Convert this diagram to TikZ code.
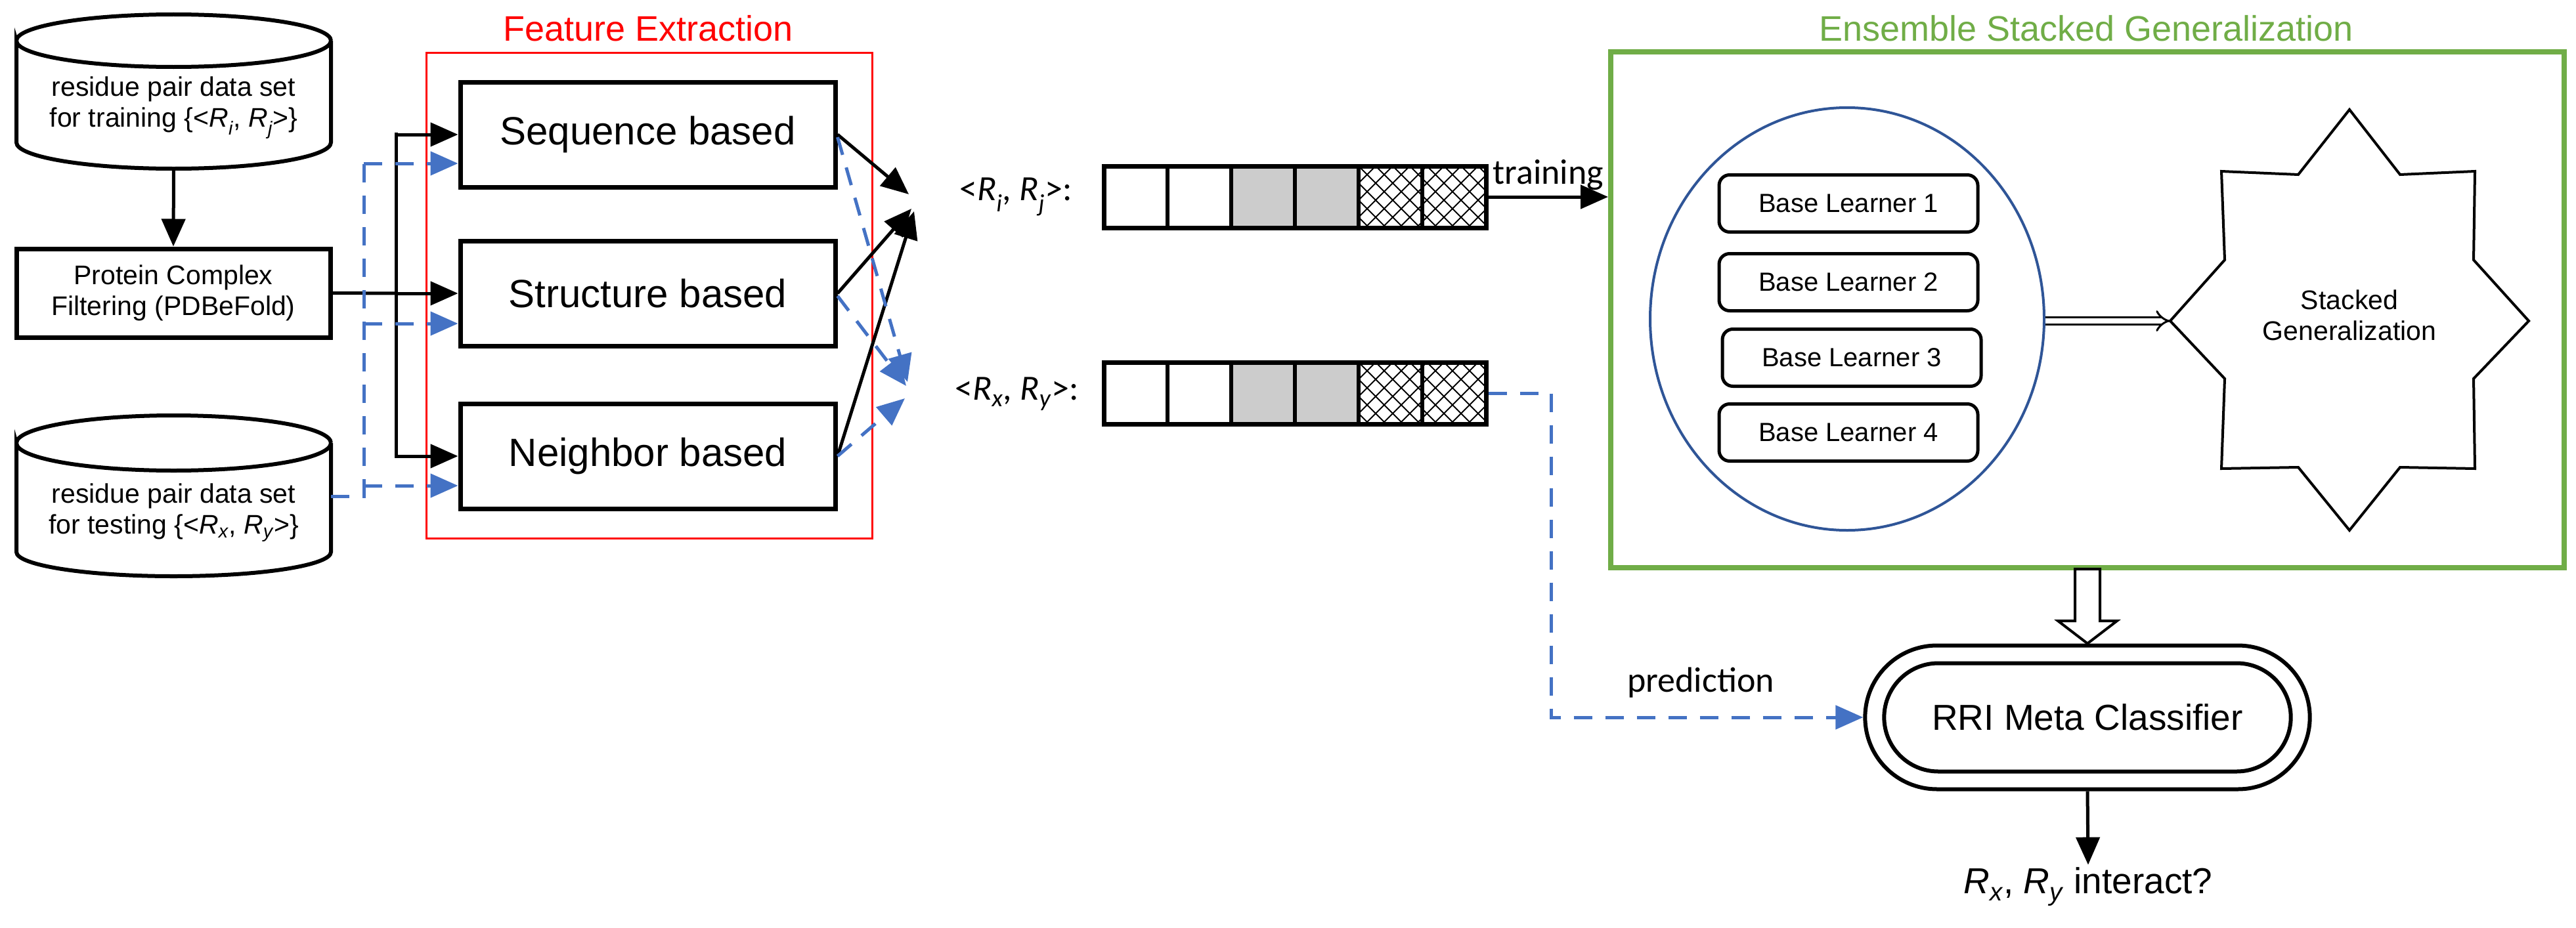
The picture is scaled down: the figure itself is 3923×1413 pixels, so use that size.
\documentclass[tikz,border=0pt]{standalone}
\usepackage{fontspec}
\setmainfont{Liberation Sans}
\newfontfamily\calfont{Carlito}
\usetikzlibrary{arrows.meta,shapes.misc,shapes.geometric,calc}
\definecolor{myblue}{RGB}{68,114,196}
\definecolor{ellblue}{RGB}{47,85,151}
\definecolor{mygreen}{RGB}{112,173,71}
\definecolor{mygrey}{RGB}{204,204,204}
\newcommand\Rs[1]{\textit{R}\textsubscript{\textit{#1}}}
\newcommand\fs[1]{\fontsize{#1pt}{\dimexpr #1pt*115/100\relax}\selectfont}
\begin{document}
\begin{tikzpicture}[x=1pt,y=-1pt,
  blk/.style={line width=5pt,-{Triangle[length=42pt,width=36pt]}},
  blu/.style={line width=5pt,myblue,dash pattern=on 28pt off 20pt,-{Triangle[length=42pt,width=36pt]}},
  fbox/.style={draw,line width=7pt,minimum width=571pt,minimum height=160pt,font=\fs{60}},
  bl/.style={draw,line width=5pt,rounded corners=16pt,minimum width=394pt,minimum height=87pt,font=\fs{40}}]
\useasboundingbox (0,0) rectangle (3923,1413);
% cylinders
\draw[line width=6pt] (25,62) arc[start angle=180,end angle=360,x radius=239.5,y radius=40] (504,62) arc[start angle=0,end angle=180,x radius=239.5,y radius=40] -- (25,217) arc[start angle=180,end angle=0,x radius=239.5,y radius=40] -- (504,62);
\node[minimum width=479pt,minimum height=160pt,align=center,font=\fs{41}] (cyl1) at (264.5,164) {residue pair data set\\for training \{<\Rs{i}, \Rs{j}>\}};
\draw[line width=6pt] (25,675) arc[start angle=180,end angle=360,x radius=239.5,y radius=42] (504,675) arc[start angle=0,end angle=180,x radius=239.5,y radius=42] -- (25,841) arc[start angle=180,end angle=0,x radius=239.5,y radius=37] -- (504,675);
\node[minimum width=479pt,minimum height=150pt,align=center,font=\fs{41}] (cyl2) at (264.5,781) {residue pair data set\\for testing \{<\Rs{x}, \Rs{y}>\}};
\coordinate (c1b) at (264.5,257);
\node[draw,line width=7pt,minimum width=478pt,minimum height=135pt,align=center,font=\fs{41}] (pcf) at (264,446.5) {Protein Complex\\Filtering (PDBeFold)};
\draw[blk] (c1b) -- (pcf.north);
% feature extraction
\node[draw=red,line width=3pt,minimum width=679pt,minimum height=740pt] (fe) at (988.5,450) {};
\node[text=red,font=\fs{54}] (fel) at (987,43) {Feature Extraction};
\node[fbox] (seq) at (986.5,205) {Sequence based};
\node[fbox] (str) at (986.5,447) {Structure based};
\node[fbox] (nei) at (986.5,695) {Neighbor based};
\coordinate (jb) at (603,447);
\draw[line width=5pt] (pcf.east) -- (jb);
\draw[blk] (603,205) -- (seq.west);
\draw[blk] (jb) -- (str.west);
\draw[line width=5pt] (603,202) -- (603,698);
\draw[blk] (603,695) -- (nei.west);
\coordinate (bj) at (554,756);
\draw[line width=5pt,myblue,dash pattern=on 28pt off 20pt] (cyl2.east|-bj) -- (bj) -- (554,249);
\draw[blu] (554,249) -- (seq.west|-0,249);
\draw[blu] (554,493) -- (str.west|-0,493);
\draw[blu] (554,740) -- (nei.west|-0,740);
% vectors
\foreach \n/\yy in {vec1/300,vec2/599}{
  \fill[mygrey] (1875,\yy-47) rectangle (2069,\yy+47);
  \begin{scope}
  \clip (2069,\yy-47) rectangle (2263,\yy+47);
  \foreach \k in {-6,...,14}{
    \draw[line width=2pt] (2069+\k*26,\yy-47) -- ++(94,94);
    \draw[line width=2pt] (2069+\k*26,\yy-47) -- ++(-94,94);
  }
  \end{scope}
  \foreach \xx in {1778,1875,1972,2069,2166}{\draw[line width=6pt] (\xx,\yy-47) -- (\xx,\yy+47);}
  \node[draw,line width=7pt,minimum width=582pt,minimum height=94pt] (\n) at (1972,\yy) {};
}
\node[anchor=east,font=\calfont\fs{54}] (lij) at (1636,300) {<\Rs{i}, \Rs{j}>:};
\node[anchor=east,font=\calfont\fs{54}] (lxy) at (1646,600) {<\Rs{x}, \Rs{y}>:};
\draw[blk] (seq.east) -- (1384,296);
\draw[blk] (str.east) -- (1388,318);
\draw[blk] (nei.east) -- (1392,322);
\draw[blu] ($(seq.east)+(0,4)$) -- (1382,582);
\draw[blu] ($(str.east)+(0,4)$) -- (1380,588);
\draw[blu] (nei.east) -- (1378,607);
% ensemble
\node[draw=mygreen,line width=8pt,minimum width=1452pt,minimum height=786pt] (esg) at (3179,472) {};
\node[text=mygreen,font=\fs{54}] (esgl) at (3177,43) {Ensemble Stacked Generalization};
\draw[blk] (vec1.east) -- (esg.west|-vec1.east) node[midway,above=4pt,font=\calfont\fs{54}] (trl) {training};
\node[draw=ellblue,line width=4pt,ellipse,minimum width=600pt,minimum height=644pt] (ell) at (2813,486) {};
\node[bl] (b1) at (2815,310) {Base Learner 1};
\node[bl] (b2) at (2815,430) {Base Learner 2};
\node[bl] (b3) at (2820,545) {Base Learner 3};
\node[bl] (b4) at (2815,659) {Base Learner 4};
\draw[line width=4pt,line join=miter] (3578,167) -- (3655,266) -- (3769,261) -- (3767,396) -- (3851,489) -- (3767,577) -- (3769,714) -- (3655,712) -- (3578,808) -- (3500,712) -- (3383,714) -- (3388,577) -- (3305,489) -- (3388,396) -- (3383,261) -- (3500,266) -- cycle;
\node[align=center,font=\fs{41}] (star) at (3578,480) {Stacked\\Generalization};
\coordinate (stw) at (3305,489);
\draw[line width=3pt,double,double distance=8pt,-{Implies[length=14pt]}] (ell.east|-stw) -- (stw);
% meta classifier
\node[draw,line width=6pt,rounded rectangle,minimum width=684pt,minimum height=219pt] (mco) at (3179,1093) {};
\node[draw,line width=6pt,rounded rectangle,minimum width=626pt,minimum height=165pt,font=\fs{55}] (mc) at (3179,1093) {RRI Meta Classifier};
\draw[line width=4pt,line join=miter,fill=white] (3160,867) -- (3198,867) -- (3198,946) -- (3224,946) -- (mco.north) -- (3134,946) -- (3160,946) -- cycle;
\node[font=\fs{55}] (out) at (3180,1351) {\Rs{x}, \Rs{y} interact?};
\draw[blk] (mco.south) -- (out.north);
\coordinate (pc) at (2362,599);
\draw[blu] (vec2.east) -- (pc) -- (2362,1093) -- (mco.west);
\node[font=\calfont\fs{54}] (pred) at (2590,1040) {prediction};
\end{tikzpicture}
\end{document}
